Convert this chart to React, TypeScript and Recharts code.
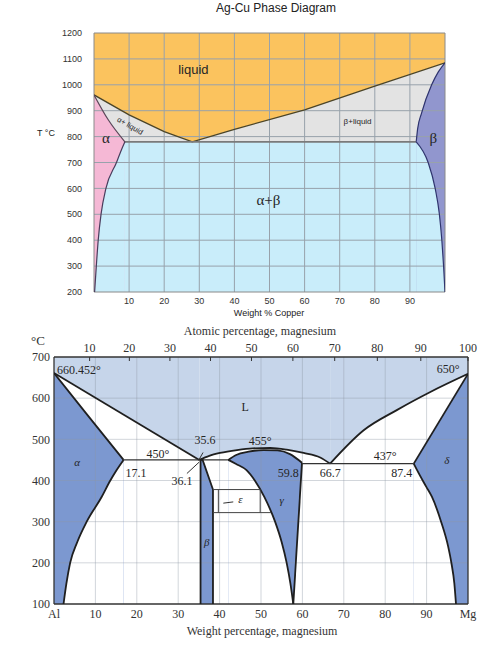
import React from 'react';
import { ComposedChart, Area, Line, XAxis, YAxis, ReferenceLine, ReferenceDot } from 'recharts';

const SANS = '"Liberation Sans", Arial, sans-serif';
const SERIF = '"Liberation Serif", "Times New Roman", serif';

type P = { x: number; t: number };
const pts = (a: number[][]): P[] => a.map(([x, t]) => ({ x, t }));

// ---------------- Ag-Cu diagram (weight % Cu, °C) ----------------
const agcuXTicks = [10, 20, 30, 40, 50, 60, 70, 80, 90];
const agcuYTicks = [200, 300, 400, 500, 600, 700, 800, 900, 1000, 1100, 1200];
const agcuGridX = [10, 20, 30, 40, 50, 60, 70, 80, 90];
const agcuGridY = [300, 400, 500, 600, 700, 800, 900, 1000, 1100];

const agcuLiquidus = pts([[0, 961], [10, 884], [20, 819], [28, 780], [40, 828], [60, 903], [80, 995], [100, 1085]]);
const agcuAlphaSolidus = pts([[0, 961], [4.1, 864], [8.8, 780]]);
const agcuAlphaSolvus = pts([[0.17, 200], [0.66, 300], [1.2, 400], [2.0, 500], [3.4, 600], [6.4, 700], [7.4, 735], [8.8, 780]]);
const agcuEutectic = pts([[8.8, 780], [91.8, 780]]);
const agcuBetaSolvus = pts([[91.8, 780], [95.2, 700], [97.2, 600], [98.4, 500], [99.1, 400], [99.6, 300], [100, 200]]);
const agcuBetaSolidus = pts([[91.8, 780], [92.2, 830], [93.3, 890], [96.2, 1000], [98.1, 1050], [100, 1085]]);

// ---------------- Al-Mg diagram (weight % Mg, °C) ----------------
const almgXTicks = [0, 10, 20, 30, 40, 50, 60, 70, 80, 90, 100];
const almgXLabels = ['Al', '10', '20', '30', '40', '50', '60', '70', '80', '90', 'Mg'];
const atomicTickPos = [8.6, 18.2, 28.0, 37.8, 47.7, 57.7, 67.8, 78.1, 88.6, 100];
const atomicLabels = ['10', '20', '30', '40', '50', '60', '70', '80', '90', '100'];
const almgYTicks = [100, 200, 300, 400, 500, 600, 700];
const almgGridX = [10, 20, 30, 40, 50, 60, 70, 80, 90];
const almgGridY = [200, 300, 400, 500, 600];

const liqLeft = pts([[0, 661], [35.1, 450]]);
const liqMid = pts([[35.1, 450], [37.5, 460], [40.1, 467], [44.2, 474], [48, 478], [52.2, 479], [56.2, 475], [60.3, 467], [64.3, 456], [66.7, 441]]);
const liqRight = pts([[66.7, 441], [74.8, 522], [82.8, 571], [90.9, 615], [100, 659]]);
const alphaSolidus = pts([[0, 661], [8, 560], [16.8, 450]]);
const alphaSolvus = pts([[2.3, 100], [3.0, 150], [3.9, 200], [5.6, 250], [7.9, 300], [11.5, 360], [13.6, 400], [15.1, 425], [16.8, 450]]);
const eut450 = pts([[16.8, 450], [42.1, 450]]);
const betaTop = pts([[35.4, 450], [35.9, 450], [38.4, 378]]);
const betaOutline = pts([[35.4, 100], [35.4, 450], [35.9, 450], [38.4, 378], [38.4, 100]]);
const gammaDome = pts([[42.1, 450], [44, 462], [47, 470], [50.6, 474], [54, 473], [57, 464], [59.9, 443]]);
const gammaLeft = pts([[42.1, 450], [44, 440], [46.5, 425], [48.5, 400], [50.8, 360], [53.4, 300], [55, 250], [56.2, 200], [57.1, 150], [57.8, 100]]);
const gammaRight = pts([[57.8, 100], [59.9, 443]]);
const eut437 = pts([[59.9, 441], [86.9, 441]]);
const deltaSolidus = pts([[86.9, 441], [100, 659]]);
const deltaSolvus = pts([[86.9, 441], [87.7, 425], [89.9, 385], [91.3, 360], [93.5, 300], [95.2, 240], [96.0, 199], [96.7, 150], [97.1, 100]]);
const epsBoxTop = pts([[38.4, 378], [49.8, 378], [49.8, 322]]);
const epsBoxBottom = pts([[38.4, 322], [52.4, 322]]);
const epsBoxInner = pts([[39.7, 378], [39.7, 322]]);
const leader356 = pts([[35.1, 452], [36.0, 468]]);
const leader361 = pts([[32.1, 417], [35.1, 445]]);
const epsDash = pts([[40.9, 345], [43.3, 348]]);

const C_L = '#C6D5EA';
const C_S = '#7C98D0';
const C_LINE = '#1f1f1f';

const lbl = (value: string, fontSize: number, fontFamily: string, extra: any = {}) => ({
  value,
  position: 'center',
  fontSize,
  fontFamily,
  fill: '#262626',
  ...extra,
});

const Txt = ({ x, y, children, style }: any) => (
  <div
    style={{
      position: 'absolute',
      left: x,
      top: y,
      transform: 'translate(-50%, -50%)',
      whiteSpace: 'nowrap',
      lineHeight: 1,
      color: '#222',
      ...style,
    }}
  >
    {children}
  </div>
);

function AgCu() {
  const grid = '#98a2ab';
  return (
    <ComposedChart width={485} height={320} margin={{ top: 33, right: 40, bottom: 0, left: 0 }}>
      <XAxis type="number" dataKey="x" domain={[0, 100]} ticks={agcuXTicks} interval={0} allowDataOverflow
        tickSize={0} tickMargin={6} axisLine={false} tickLine={false} height={28}
        tick={{ fontSize: 9, fill: '#333', fontFamily: SANS }} />
      <YAxis type="number" domain={[200, 1200]} ticks={agcuYTicks} interval={0} allowDataOverflow
        tickSize={0} tickMargin={12} axisLine={false} tickLine={false} width={94}
        tick={{ fontSize: 9, fill: '#333', fontFamily: SANS }} />
      <Area data={agcuLiquidus} dataKey="t" type="linear" baseValue={200} fill="#E3E3E3" fillOpacity={1} stroke="none" dot={false} activeDot={false} isAnimationActive={false} />
      <Area data={agcuLiquidus} dataKey="t" type="linear" baseValue={1200} fill="#FBC35E" fillOpacity={1} stroke="none" dot={false} activeDot={false} isAnimationActive={false} />
      <Area data={agcuAlphaSolidus} dataKey="t" type="monotone" baseValue={200} fill="#F5B8D5" fillOpacity={1} stroke="none" dot={false} activeDot={false} isAnimationActive={false} />
      <Area data={agcuBetaSolidus} dataKey="t" type="monotone" baseValue={200} fill="#9196CE" fillOpacity={1} stroke="none" dot={false} activeDot={false} isAnimationActive={false} />
      <Area data={agcuAlphaSolvus} dataKey="t" type="monotone" baseValue={200} fill="#C9EDFA" fillOpacity={1} stroke="none" dot={false} activeDot={false} isAnimationActive={false} />
      <Area data={agcuEutectic} dataKey="t" type="linear" baseValue={200} fill="#C9EDFA" fillOpacity={1} stroke="none" dot={false} activeDot={false} isAnimationActive={false} />
      <Area data={agcuBetaSolvus} dataKey="t" type="monotone" baseValue={200} fill="#C9EDFA" fillOpacity={1} stroke="none" dot={false} activeDot={false} isAnimationActive={false} />
      {agcuGridX.map((x) => <ReferenceLine key={'gx' + x} x={x} stroke={grid} strokeWidth={1} />)}
      {agcuGridY.map((y) => <ReferenceLine key={'gy' + y} y={y} stroke={grid} strokeWidth={1} />)}
      <ReferenceLine x={0} stroke="#8a8a8a" ifOverflow="visible" />
      <ReferenceLine x={100} stroke="#8a8a8a" ifOverflow="visible" />
      <ReferenceLine y={200} stroke="#8a8a8a" ifOverflow="visible" />
      <ReferenceLine y={1200} stroke="#8a8a8a" ifOverflow="visible" />
      <Line data={agcuLiquidus} dataKey="t" type="linear" stroke="#4a4428" strokeWidth={1.3} dot={false} activeDot={false} isAnimationActive={false} />
      <Line data={agcuEutectic} dataKey="t" type="linear" stroke="#7a7a7a" strokeWidth={1.8} dot={false} activeDot={false} isAnimationActive={false} />
      <Line data={agcuAlphaSolidus} dataKey="t" type="monotone" stroke="#5a4658" strokeWidth={1.2} dot={false} activeDot={false} isAnimationActive={false} />
      <Line data={agcuAlphaSolvus} dataKey="t" type="monotone" stroke="#4a3c5c" strokeWidth={1.2} dot={false} activeDot={false} isAnimationActive={false} />
      <Line data={agcuBetaSolidus} dataKey="t" type="monotone" stroke="#2f346e" strokeWidth={1.2} dot={false} activeDot={false} isAnimationActive={false} />
      <Line data={agcuBetaSolvus} dataKey="t" type="monotone" stroke="#2f346e" strokeWidth={1.2} dot={false} activeDot={false} isAnimationActive={false} />
      <ReferenceDot x={28.3} y={1061} r={0} fill="none" stroke="none" label={lbl('liquid', 13, SANS)} />
      <ReferenceDot x={49.7} y={558} r={0} fill="none" stroke="none" label={lbl('α+β', 15, SERIF)} />
      <ReferenceDot x={3.4} y={797} r={0} fill="none" stroke="none" label={lbl('α', 15, SERIF)} />
      <ReferenceDot x={96.7} y={797} r={0} fill="none" stroke="none" label={lbl('β', 15, SERIF)} />
      <ReferenceDot x={75.1} y={858} r={0} fill="none" stroke="none" label={lbl('β+liquid', 8, SANS)} />
      <ReferenceDot x={10.3} y={842} r={0} fill="none" stroke="none" label={lbl('α+ liquid', 7.5, SANS, { angle: 30 })} />
    </ComposedChart>
  );
}

function AlMg() {
  const grid = '#8f99a4';
  return (
    <ComposedChart width={485} height={327} margin={{ top: 0, right: 17, bottom: 0, left: 0 }}>
      <XAxis xAxisId={0} type="number" dataKey="x" domain={[0, 100]} ticks={almgXTicks} interval={0} allowDataOverflow
        tickFormatter={(v: number) => almgXLabels[almgXTicks.indexOf(v)] ?? String(v)}
        tickSize={0} tickMargin={5} axisLine={false} tickLine={false} height={43}
        tick={{ fontSize: 12, fill: '#333', fontFamily: SERIF }} />
      <XAxis xAxisId="top" orientation="top" type="number" dataKey="x" domain={[0, 100]} ticks={atomicTickPos} interval={0} allowDataOverflow
        tickFormatter={(v: number) => atomicLabels[atomicTickPos.indexOf(v)] ?? ''}
        tickSize={-4} tickMargin={9} axisLine={false} tickLine={{ stroke: '#333' }} height={37}
        tick={{ fontSize: 12, fill: '#333', fontFamily: SERIF }} />
      <YAxis type="number" domain={[100, 700]} ticks={almgYTicks} interval={0} allowDataOverflow
        tickSize={0} tickMargin={4} axisLine={false} tickLine={false} width={54}
        tick={{ fontSize: 12, fill: '#333', fontFamily: SERIF }} />
      {/* liquid */}
      <Area data={liqLeft} dataKey="t" type="linear" baseValue={700} fill={C_L} fillOpacity={1} stroke="none" dot={false} activeDot={false} isAnimationActive={false} />
      <Area data={liqMid} dataKey="t" type="monotone" baseValue={700} fill={C_L} fillOpacity={1} stroke="none" dot={false} activeDot={false} isAnimationActive={false} />
      <Area data={liqRight} dataKey="t" type="monotone" baseValue={700} fill={C_L} fillOpacity={1} stroke="none" dot={false} activeDot={false} isAnimationActive={false} />
      {/* alpha */}
      <Area data={alphaSolidus} dataKey="t" type="linear" baseValue={100} fill={C_S} fillOpacity={1} stroke="none" dot={false} activeDot={false} isAnimationActive={false} />
      <Area data={alphaSolvus} dataKey="t" type="monotone" baseValue={100} fill="#ffffff" fillOpacity={1} stroke="none" dot={false} activeDot={false} isAnimationActive={false} />
      {/* beta */}
      <Area data={betaTop} dataKey="t" type="linear" baseValue={100} fill={C_S} fillOpacity={1} stroke="none" dot={false} activeDot={false} isAnimationActive={false} />
      {/* gamma */}
      <Area data={gammaDome} dataKey="t" type="monotone" baseValue={100} fill={C_S} fillOpacity={1} stroke="none" dot={false} activeDot={false} isAnimationActive={false} />
      <Area data={gammaLeft} dataKey="t" type="monotone" baseValue={100} fill="#ffffff" fillOpacity={1} stroke="none" dot={false} activeDot={false} isAnimationActive={false} />
      <Area data={gammaRight} dataKey="t" type="linear" baseValue={100} fill="#ffffff" fillOpacity={1} stroke="none" dot={false} activeDot={false} isAnimationActive={false} />
      {/* delta */}
      <Area data={deltaSolidus} dataKey="t" type="linear" baseValue={100} fill={C_S} fillOpacity={1} stroke="none" dot={false} activeDot={false} isAnimationActive={false} />
      <Area data={deltaSolvus} dataKey="t" type="monotone" baseValue={100} fill="#ffffff" fillOpacity={1} stroke="none" dot={false} activeDot={false} isAnimationActive={false} />
      {almgGridX.map((x) => <ReferenceLine key={'gx' + x} x={x} stroke={grid} strokeOpacity={0.4} strokeWidth={1} />)}
      {almgGridY.map((y) => <ReferenceLine key={'gy' + y} y={y} stroke={grid} strokeOpacity={0.4} strokeWidth={1} />)}
      <ReferenceLine x={0} stroke="#333" strokeWidth={1.3} ifOverflow="visible" />
      <ReferenceLine x={100} stroke="#333" strokeWidth={1.3} ifOverflow="visible" />
      <ReferenceLine y={100} stroke="#333" strokeWidth={1.3} ifOverflow="visible" />
      <ReferenceLine y={700} stroke="#333" strokeWidth={1.3} ifOverflow="visible" />
      {/* boundaries */}
      <Line data={liqLeft} dataKey="t" type="linear" stroke={C_LINE} strokeWidth={1.8} dot={false} activeDot={false} isAnimationActive={false} />
      <Line data={liqMid} dataKey="t" type="monotone" stroke={C_LINE} strokeWidth={1.8} dot={false} activeDot={false} isAnimationActive={false} />
      <Line data={liqRight} dataKey="t" type="monotone" stroke={C_LINE} strokeWidth={1.8} dot={false} activeDot={false} isAnimationActive={false} />
      <Line data={alphaSolidus} dataKey="t" type="linear" stroke={C_LINE} strokeWidth={1.8} dot={false} activeDot={false} isAnimationActive={false} />
      <Line data={alphaSolvus} dataKey="t" type="monotone" stroke={C_LINE} strokeWidth={1.8} dot={false} activeDot={false} isAnimationActive={false} />
      <Line data={eut450} dataKey="t" type="linear" stroke="#333" strokeWidth={1.3} dot={false} activeDot={false} isAnimationActive={false} />
      <Line data={betaOutline} dataKey="t" type="linear" stroke={C_LINE} strokeWidth={1.8} dot={false} activeDot={false} isAnimationActive={false} />
      <Line data={gammaDome} dataKey="t" type="monotone" stroke={C_LINE} strokeWidth={1.8} dot={false} activeDot={false} isAnimationActive={false} />
      <Line data={gammaLeft} dataKey="t" type="monotone" stroke={C_LINE} strokeWidth={1.8} dot={false} activeDot={false} isAnimationActive={false} />
      <Line data={gammaRight} dataKey="t" type="linear" stroke={C_LINE} strokeWidth={1.8} dot={false} activeDot={false} isAnimationActive={false} />
      <Line data={eut437} dataKey="t" type="linear" stroke="#333" strokeWidth={1.3} dot={false} activeDot={false} isAnimationActive={false} />
      <Line data={deltaSolidus} dataKey="t" type="linear" stroke={C_LINE} strokeWidth={1.8} dot={false} activeDot={false} isAnimationActive={false} />
      <Line data={deltaSolvus} dataKey="t" type="monotone" stroke={C_LINE} strokeWidth={1.8} dot={false} activeDot={false} isAnimationActive={false} />
      <Line data={epsBoxTop} dataKey="t" type="linear" stroke="#444" strokeWidth={1} dot={false} activeDot={false} isAnimationActive={false} />
      <Line data={epsBoxBottom} dataKey="t" type="linear" stroke="#444" strokeWidth={1} dot={false} activeDot={false} isAnimationActive={false} />
      <Line data={epsBoxInner} dataKey="t" type="linear" stroke="#444" strokeWidth={1} dot={false} activeDot={false} isAnimationActive={false} />
      <Line data={leader356} dataKey="t" type="linear" stroke="#333" strokeWidth={1} dot={false} activeDot={false} isAnimationActive={false} />
      <Line data={leader361} dataKey="t" type="linear" stroke="#333" strokeWidth={1} dot={false} activeDot={false} isAnimationActive={false} />
      <Line data={epsDash} dataKey="t" type="linear" stroke="#333" strokeWidth={1} dot={false} activeDot={false} isAnimationActive={false} />
      {/* labels */}
      <ReferenceDot x={6.0} y={670} r={0} fill="none" stroke="none" label={lbl('660.452°', 12, SERIF)} />
      <ReferenceDot x={95.2} y={672} r={0} fill="none" stroke="none" label={lbl('650°', 12, SERIF)} />
      <ReferenceDot x={46.2} y={578} r={0} fill="none" stroke="none" label={lbl('L', 12, SERIF)} />
      <ReferenceDot x={36.5} y={500} r={0} fill="none" stroke="none" label={lbl('35.6', 12, SERIF)} />
      <ReferenceDot x={49.8} y={496} r={0} fill="none" stroke="none" label={lbl('455°', 12, SERIF)} />
      <ReferenceDot x={25.1} y={466} r={0} fill="none" stroke="none" label={lbl('450°', 12, SERIF)} />
      <ReferenceDot x={80.0} y={461} r={0} fill="none" stroke="none" label={lbl('437°', 12, SERIF)} />
      <ReferenceDot x={5.6} y={445} r={0} fill="none" stroke="none" label={lbl('α', 11, SERIF, { fontStyle: 'italic' })} />
      <ReferenceDot x={94.9} y={449} r={0} fill="none" stroke="none" label={lbl('δ', 11, SERIF, { fontStyle: 'italic' })} />
      <ReferenceDot x={19.8} y={418} r={0} fill="none" stroke="none" label={lbl('17.1', 12, SERIF)} />
      <ReferenceDot x={30.9} y={399} r={0} fill="none" stroke="none" label={lbl('36.1', 12, SERIF)} />
      <ReferenceDot x={56.6} y={418} r={0} fill="none" stroke="none" label={lbl('59.8', 12, SERIF)} />
      <ReferenceDot x={66.7} y={418} r={0} fill="none" stroke="none" label={lbl('66.7', 12, SERIF)} />
      <ReferenceDot x={84.0} y={418} r={0} fill="none" stroke="none" label={lbl('87.4', 12, SERIF)} />
      <ReferenceDot x={55.0} y={352} r={0} fill="none" stroke="none" label={lbl('γ', 11, SERIF, { fontStyle: 'italic' })} />
      <ReferenceDot x={45.0} y={356} r={0} fill="none" stroke="none" label={lbl('ε', 11, SERIF, { fontStyle: 'italic' })} />
      <ReferenceDot x={36.9} y={251} r={0} fill="none" stroke="none" label={lbl('β', 11, SERIF, { fontStyle: 'italic' })} />
    </ComposedChart>
  );
}

export default function App() {
  return (
    <div style={{ position: 'absolute', left: 0, top: 0, width: 485, height: 647, background: '#fff', overflow: 'hidden' }}>
      <div style={{ position: 'absolute', left: 0, top: 0 }}>
        <AgCu />
      </div>
      <div style={{ position: 'absolute', left: 0, top: 320 }}>
        <AlMg />
      </div>
      <Txt x={276} y={8} style={{ fontFamily: SANS, fontSize: 12 }}>Ag-Cu Phase Diagram</Txt>
      <Txt x={46} y={133} style={{ fontFamily: SANS, fontSize: 9 }}>T °C</Txt>
      <Txt x={269} y={313} style={{ fontFamily: SANS, fontSize: 9 }}>Weight % Copper</Txt>
      <Txt x={38} y={340} style={{ fontFamily: SERIF, fontSize: 13, color: '#333' }}>°C</Txt>
      <Txt x={260} y={331} style={{ fontFamily: SERIF, fontSize: 12, color: '#333' }}>Atomic percentage, magnesium</Txt>
      <Txt x={262} y={631} style={{ fontFamily: SERIF, fontSize: 12, color: '#333' }}>Weight percentage, magnesium</Txt>
    </div>
  );
}
